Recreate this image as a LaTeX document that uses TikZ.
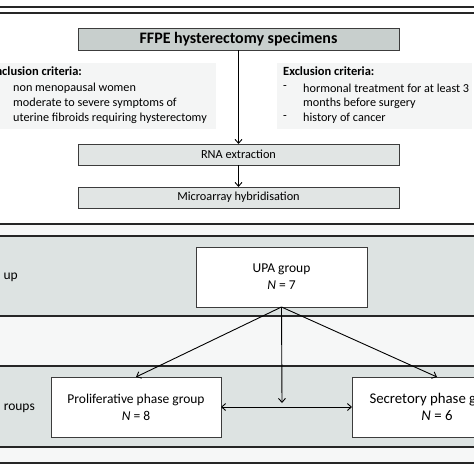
\documentclass[tikz,border=0pt]{standalone}
\usepackage{fontspec}
\setmainfont{Carlito}
\usetikzlibrary{arrows.meta}
\definecolor{bandgray}{HTML}{DDE3E2}
\definecolor{palegray}{HTML}{F6F7F7}
\definecolor{hdrgray}{HTML}{C8CFCD}
\definecolor{stepgray}{HTML}{E1E5E4}
\definecolor{critgray}{HTML}{F4F5F5}
\definecolor{edgegray}{HTML}{3C3C3C}
\tikzset{
  sepline/.style={draw=black!85, line width=1.1pt},
  flowbox/.style={draw=edgegray, line width=0.8pt, inner sep=0pt, outer sep=0pt, align=center},
  critline/.style={anchor=west, inner sep=0pt, font=\fontsize{12.2}{14}\selectfont},
  crithead/.style={critline, font=\fontsize{12.5}{14}\selectfont\bfseries},
  arr/.style={draw=black, line width=0.9pt, -{Straight Barb[length=4pt,width=7pt]}},
  darr/.style={draw=black, line width=0.9pt, {Straight Barb[length=4pt,width=7pt]}-{Straight Barb[length=4pt,width=7pt]}},
  grp/.style={flowbox, fill=white, font=\fontsize{13.5}{16}\selectfont, minimum height=60pt},
  sidelbl/.style={anchor=east, inner sep=0pt, font=\fontsize{13.5}{16}\selectfont},
}
\begin{document}
\begin{tikzpicture}[x=1pt,y=-1pt]
\useasboundingbox (0,0) rectangle (474,474);
\clip (0,0) rectangle (474,474);
\fill[white] (0,0) rectangle (474,474);
% bands
\fill[palegray] (0,224) rectangle (474,236);
\fill[bandgray] (0,236) rectangle (474,316);
\fill[palegray] (0,316) rectangle (474,366);
\fill[bandgray] (0,366) rectangle (474,447);
\fill[palegray] (0,447) rectangle (474,463);
\foreach \yy in {7,13,224,236,316,366,447,463} \draw[sepline] (0,\yy) -- (474,\yy);
% criteria boxes
\fill[critgray] (-20,63) rectangle (216,129);
\fill[critgray] (277,63) rectangle (472,129);
\node[crithead] (inhead) at (-8,71) {Inclusion criteria:};
\node[critline] (in1) at (13,88) {non menopausal women};
\node[critline] (in2) at (13,103) {moderate to severe symptoms of};
\node[critline] (in3) at (13,118) {uterine fibroids requiring hysterectomy};
\node[crithead] (exhead) at (283,71) {Exclusion criteria:};
\node[critline] (exd1) at (283,88) {-};
\node[critline] (ex1) at (303,88) {hormonal treatment for at least 3};
\node[critline] (ex2) at (303,103) {months before surgery};
\node[critline] (exd3) at (283,118) {-};
\node[critline] (ex3) at (303,118) {history of cancer};
% flow boxes
\node[flowbox, fill=hdrgray, minimum width=321pt, minimum height=22pt, font=\fontsize{16}{18}\selectfont\bfseries] (ffpe) at (238.5,39) {FFPE hysterectomy specimens};
\node[flowbox, fill=stepgray, minimum width=321pt, minimum height=21pt, font=\fontsize{12.3}{14}\selectfont] (rna) at (238.5,154.5) {RNA extraction};
\node[flowbox, fill=stepgray, minimum width=321pt, minimum height=21pt, font=\fontsize{12.3}{14}\selectfont] (micro) at (238.5,197.5) {Microarray hybridisation};
\draw[arr] (ffpe.south) -- (rna.north);
\draw[arr] (rna.south) -- (micro.north);
% groups
\node[grp, minimum width=171pt] (upa) at (281.5,277) {UPA group\\[1pt]\textit{N} = 7};
\node[grp, minimum width=170pt] (prolif) at (136,407) {Proliferative phase group\\[1pt]\textit{N} = 8};
\node[grp, minimum width=170pt, font=\fontsize{14.8}{17}\selectfont] (secr) at (437,407) {Secretory phase group\\[0pt]\textit{N} = 6};
\node[sidelbl] (lblA) at (18,277) {up};
\node[sidelbl] (lblB) at (35,408) {roups};
\coordinate (mid) at (282,403);
\draw[arr] (upa.south) -- (prolif.north);
\draw[arr] (upa.south) -- (secr.north);
\draw[arr] (upa.south) -- (mid);
\draw[darr] (prolif.east) -- (secr.west);
\end{tikzpicture}
\end{document}
